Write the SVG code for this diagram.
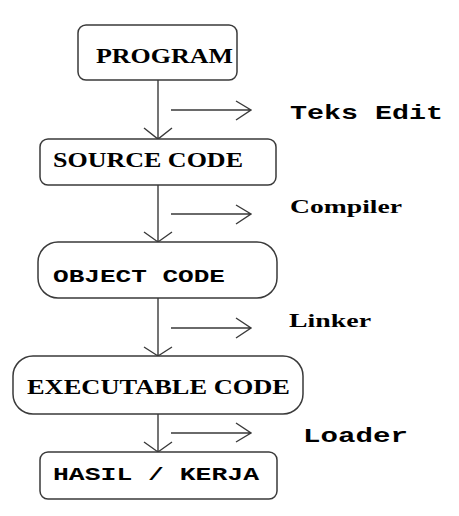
<svg xmlns="http://www.w3.org/2000/svg" width="459" height="516" viewBox="0 0 459 516">
<style>
.box{fill:#fff;stroke:#3a3a3a;stroke-width:1.5}
.ln{fill:none;stroke:#3a3a3a;stroke-width:1.4}
.sf{font-family:"Liberation Serif","Times New Roman",serif;font-weight:bold;fill:#000}
.mn{font-family:"Liberation Mono","Courier New",monospace;font-weight:bold;fill:#000}
</style>
<rect width="459" height="516" fill="#fff"/>
<g id="connectors">
<path class="ln" d="M158 80V139M144 128L158 139L172 128"/>
<path class="ln" d="M158 185V242M144 232L158 242L172 232"/>
<path class="ln" d="M158 298V356M144 347L158 356L172 347"/>
<path class="ln" d="M158 414V452M144 442L158 452L172 442"/>
<path class="ln" d="M171 110H251M236 101L251 110L236 120"/>
<path class="ln" d="M171 214H251M236 205L251 214L236 224"/>
<path class="ln" d="M171 328H251M236 318L251 328L236 338"/>
<path class="ln" d="M171 433H251M236 423L251 433L236 442"/>
</g>
<g id="program"><rect class="box" x="78" y="25" width="159" height="55" rx="8"/><text class="sf" x="96" y="63" font-size="22" textLength="137" lengthAdjust="spacingAndGlyphs">PROGRAM</text></g>
<g id="source"><rect class="box" x="40" y="139" width="236" height="46" rx="8"/><text class="sf" x="53" y="167" font-size="20" textLength="190" lengthAdjust="spacingAndGlyphs">SOURCE CODE</text></g>
<g id="object"><rect class="box" x="38" y="242" width="239" height="56" rx="20"/><text class="mn" x="53" y="282" font-size="19" textLength="172" lengthAdjust="spacingAndGlyphs">OBJECT CODE</text></g>
<g id="executable"><rect class="box" x="13" y="356" width="290" height="58" rx="20"/><text class="sf" x="27" y="394" font-size="21" textLength="263" lengthAdjust="spacingAndGlyphs">EXECUTABLE CODE</text></g>
<g id="hasil"><rect class="box" x="40" y="452" width="237" height="47" rx="8"/><text class="mn" x="53" y="480" font-size="19" textLength="206" lengthAdjust="spacingAndGlyphs">HASIL / KERJA</text></g>
<g id="labels">
<text class="mn" x="290" y="119" font-size="21" textLength="153" lengthAdjust="spacingAndGlyphs">Teks Edit</text>
<text class="sf" x="290" y="213" font-size="18" textLength="112" lengthAdjust="spacingAndGlyphs">Compiler</text>
<text class="sf" x="289" y="327" font-size="18" textLength="82" lengthAdjust="spacingAndGlyphs">Linker</text>
<text class="mn" x="303" y="442" font-size="21" textLength="105" lengthAdjust="spacingAndGlyphs">Loader</text>
</g>
</svg>
